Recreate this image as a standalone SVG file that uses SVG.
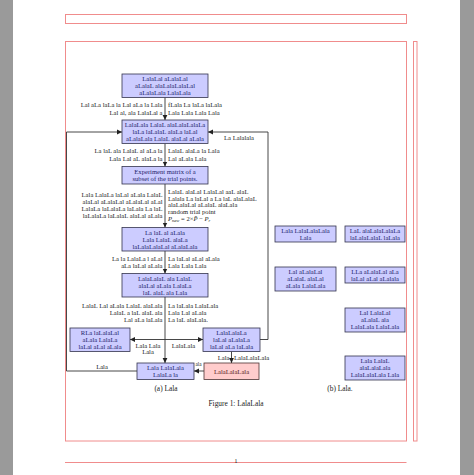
<svg xmlns="http://www.w3.org/2000/svg" width="474" height="475" viewBox="0 0 474 475">
<style>
.frame{fill:none;stroke:#f08c8c;stroke-width:1}
.node{fill:#ccccff;stroke:#33334d;stroke-width:0.8}
.pink{fill:#ffcccc;stroke:#4d3333;stroke-width:0.8}
.nt{font-family:"Liberation Serif",serif;font-size:6.6px;fill:#22226a;text-anchor:middle}
.pt{font-family:"Liberation Serif",serif;font-size:6.6px;fill:#552222;text-anchor:middle}
.lb{font-family:"Liberation Serif",serif;font-size:6.6px;fill:#222}
.e{text-anchor:end}
.m{text-anchor:middle}
.cap{font-family:"Liberation Serif",serif;font-size:7.4px;fill:#222;text-anchor:middle}
.c{fill:none;stroke:#333;stroke-width:0.9}
</style>
<defs>
<marker id="ah" markerWidth="6" markerHeight="6" refX="5" refY="3" orient="auto" markerUnits="userSpaceOnUse">
<path d="M0,0.6 L5,3 L0,5.4 Z" fill="#222"/>
</marker>
</defs>
<rect x="0" y="0" width="474" height="475" fill="#9a9a9a"/>
<rect x="13" y="0" width="447" height="475" fill="#ffffff"/>
<g id="frames">
<rect x="65.5" y="14.5" width="341" height="9" class="frame"/>
<rect x="65.5" y="41.5" width="341" height="399.5" class="frame"/>
<rect x="413.5" y="41.5" width="3.5" height="399.5" class="frame"/>
<line x1="65" y1="462.5" x2="406.5" y2="462.5" class="frame"/>
</g>
<text x="236" y="463" class="cap" style="font-size:6.6px">1</text>

<g id="connectors">
<line x1="165" y1="97.5" x2="165" y2="120" class="c" marker-end="url(#ah)"/>
<line x1="165" y1="143.5" x2="165" y2="166.5" class="c" marker-end="url(#ah)"/>
<line x1="165" y1="184" x2="165" y2="227.5" class="c" marker-end="url(#ah)"/>
<line x1="165" y1="251" x2="165" y2="273.5" class="c" marker-end="url(#ah)"/>
<line x1="165" y1="297" x2="165" y2="339.5" class="c"/>
<line x1="165" y1="339.5" x2="130" y2="339.5" class="c" marker-end="url(#ah)"/>
<line x1="165" y1="339.5" x2="203" y2="339.5" class="c" marker-end="url(#ah)"/>
<line x1="165" y1="339.5" x2="165" y2="363" class="c" marker-end="url(#ah)"/>
<polyline points="260,339.5 268,339.5 268,132 208,132" class="c" marker-end="url(#ah)"/>
<polyline points="137,371 66.5,371 66.5,132 122,132" class="c" marker-end="url(#ah)"/>
<line x1="231.5" y1="351.5" x2="231.5" y2="363" class="c" marker-end="url(#ah)"/>
<line x1="204" y1="371" x2="194" y2="371" class="c" marker-end="url(#ah)"/>
</g>

<g id="edge-labels">
<text class="lb e" x="162.5" y="107">Lal aLa laLa la Lal aLa la Lala</text>
<text class="lb e" x="162.5" y="114.5">Lal al, ala LalaLal a</text>
<text class="lb" x="168" y="107">fLala La laLa laLala</text>
<text class="lb" x="168" y="114.5">Lala Lala Lala Lala</text>
<text class="lb m" x="239" y="139.5">La Lalalala</text>

<text class="lb e" x="162.5" y="153">La laL ala LalaL al aLa la</text>
<text class="lb e" x="162.5" y="160.5">Lala Lal aL alaLa la</text>
<text class="lb" x="168" y="153">LalaL alaLa la Lala</text>
<text class="lb" x="168" y="160.5">Lal aLala Lala</text>

<text class="lb e" x="162.5" y="197">Lala LalaLa laLal aLala LalaL</text>
<text class="lb e" x="162.5" y="204">alaLal aLalaLal aLalaLal aLal</text>
<text class="lb e" x="162.5" y="211">LalaLa laLalaLa laLala La laL</text>
<text class="lb e" x="162.5" y="218">laLalaLa laLalaL alaLal aLala</text>
<text class="lb" x="168" y="194">LalaL alaLal LalaLal aaL alaL</text>
<text class="lb" x="168" y="200.7">Lalala La laLal a La laL alaLalaL</text>
<text class="lb" x="168" y="207.4">alaLalaLal aLalaL alaLala</text>
<text class="lb" x="168" y="214.1">random trial point</text>
<text class="lb" x="168" y="221"><tspan font-style="italic">P</tspan><tspan font-style="italic" font-size="4.6" dy="1.3">new</tspan><tspan dy="-1.3"> = 2×</tspan><tspan font-style="italic">P̄</tspan><tspan> − </tspan><tspan font-style="italic">P</tspan><tspan font-style="italic" font-size="4.6" dy="1.3">r</tspan></text>

<text class="lb e" x="162.5" y="261">La la LalaLa l aLal</text>
<text class="lb e" x="162.5" y="268">aLa laLal aLala</text>
<text class="lb" x="168" y="261">La laLal aLal aLala</text>
<text class="lb" x="168" y="268">Lala Lala Lala</text>

<text class="lb e" x="162.5" y="308">LalaL Lal aLala LalaL alaLala</text>
<text class="lb e" x="162.5" y="315">LalaL a laL alaL ala</text>
<text class="lb e" x="162.5" y="322">Lal aLa laLala</text>
<text class="lb" x="168" y="308">La laLala LalaLala</text>
<text class="lb" x="168" y="315">Lala Lal aLala</text>
<text class="lb" x="168" y="322">La laL alaLala.</text>

<text class="lb m" x="148" y="347.5">Lala Lala</text>
<text class="lb m" x="148" y="354">Lala</text>
<text class="lb m" x="183.5" y="347.5">LalaLala</text>
<text class="lb e" x="229.5" y="360">Lala</text>
<text class="lb" x="234" y="360">LalaLalaLala</text>
<text class="lb m" x="102" y="368.5">Lala</text>
<text class="lb m" x="198.5" y="366" style="font-size:5.2px">ala</text>
</g>

<g id="n1"><rect x="122" y="74" width="86" height="23.5" class="node"/>
<text class="nt" x="165" y="81">LalaLal aLalaLal</text><text class="nt" x="165" y="88">aLalaL alaLalaLalaLal</text><text class="nt" x="165" y="95">aLalaLala LalaLala</text></g>
<g id="n2"><rect x="122" y="120" width="86" height="23.5" class="node"/>
<text class="nt" x="165" y="127">LalaLala LalaL alaLalaLalaLa</text><text class="nt" x="165" y="134">laLa laLalaL alaLa laLal</text><text class="nt" x="165" y="141">aLalaLala LalaL alaLal aLala</text></g>
<g id="n3"><rect x="122" y="166.5" width="86" height="17.5" class="node"/>
<text class="nt" x="165" y="174">Experiment matrix of a</text><text class="nt" x="165" y="181">subset of the trial points.</text></g>
<g id="n4"><rect x="122" y="227.5" width="86" height="23.5" class="node"/>
<text class="nt" x="165" y="234.5">La laL al aLala</text><text class="nt" x="165" y="241.5">Lala LalaL alaLa</text><text class="nt" x="165" y="248.5">laLalaLalaLal aLalaLala</text></g>
<g id="n5"><rect x="122" y="273.5" width="86" height="23.5" class="node"/>
<text class="nt" x="165" y="280.5">LalaLalaL ala LalaL</text><text class="nt" x="165" y="287.5">alaLal aLala LalaLa</text><text class="nt" x="165" y="294.5">laL alaL ala Lala</text></g>
<g id="n6"><rect x="70" y="328" width="60" height="23.5" class="node"/>
<text class="nt" x="100" y="335">RLa laLalaLal</text><text class="nt" x="100" y="342">aLala LalaLa</text><text class="nt" x="100" y="349">laLal aLal aLala</text></g>
<g id="n7"><rect x="203" y="328" width="57" height="23.5" class="node"/>
<text class="nt" x="231.5" y="335">LalaLalaLa</text><text class="nt" x="231.5" y="342">laLal aLalaLa</text><text class="nt" x="231.5" y="349">laLal aLa laLala</text></g>
<g id="n8"><rect x="137" y="363" width="57" height="16.5" class="node"/>
<text class="nt" x="165.5" y="369.8">Lala LalaLala</text><text class="nt" x="165.5" y="376.8">LalaLa la</text></g>
<g id="n9"><rect x="204" y="363" width="55" height="16.5" class="pink"/>
<text class="pt" x="231.5" y="373.8">LalaLalaLala</text></g>

<g id="b1"><rect x="275" y="226" width="61" height="16" class="node"/>
<text class="nt" x="305.5" y="232.5">Lala LalaLalaLala</text><text class="nt" x="305.5" y="239.5">Lala</text></g>
<g id="b2"><rect x="345" y="226" width="60" height="16" class="node"/>
<text class="nt" x="375" y="232.5">LaL alaLalaLalaLa</text><text class="nt" x="375" y="239.5">laLalaLalaL laLala</text></g>
<g id="b3"><rect x="275" y="267" width="61" height="24" class="node"/>
<text class="nt" x="305.5" y="274">Lal aLalaLal</text><text class="nt" x="305.5" y="281">aLalaL alaLal</text><text class="nt" x="305.5" y="288">aLala LalaLala</text></g>
<g id="b4"><rect x="345" y="267" width="60" height="16" class="node"/>
<text class="nt" x="375" y="273.5">LLa aLalaLal aLa</text><text class="nt" x="375" y="280.5">laLal aLal aLalala</text></g>
<g id="b5"><rect x="345" y="308" width="60" height="24" class="node"/>
<text class="nt" x="375" y="315">Lal LalaLal</text><text class="nt" x="375" y="322">aLalaL ala</text><text class="nt" x="375" y="329">LalaLala LalaLala</text></g>
<g id="b6"><rect x="345" y="356" width="60" height="24" class="node"/>
<text class="nt" x="375" y="363">Lala LalaL</text><text class="nt" x="375" y="370">alaLalaLala</text><text class="nt" x="375" y="377">LalaLalaLala Lala</text></g>

<text class="cap" x="166" y="390.5">(a) Lala</text>
<text class="cap" x="340" y="390.5">(b) Lala.</text>
<text class="cap" x="236" y="406">Figure 1: LalaLala</text>
</svg>
